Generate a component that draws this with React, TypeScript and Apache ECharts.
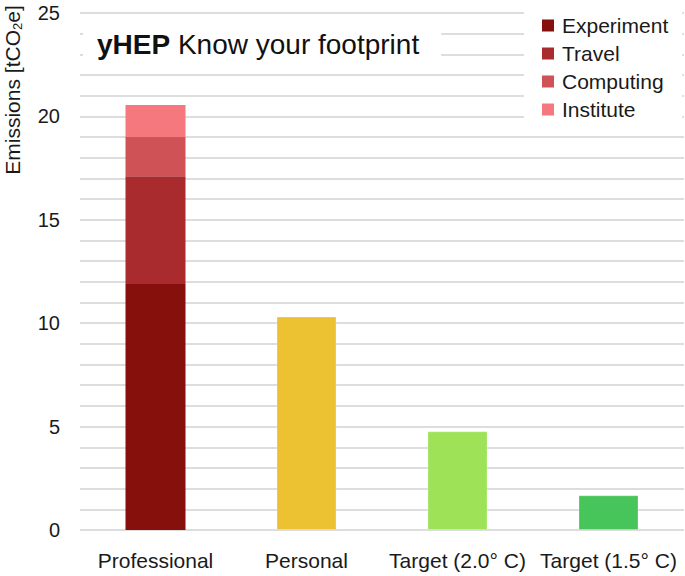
import React, { useEffect, useRef } from "react";
import * as echarts from "echarts";

const categories = ["Professional", "Personal", "Target (2.0° C)", "Target (1.5° C)"];
const sourceNames = ["Experiment", "Travel", "Computing", "Institute"];
const sourceColors = ["#86100C", "#A92B2D", "#CF5257", "#F4787E"];
// share of the professional footprint per source, in tCO2e
const professionalBySource = [11.9, 5.2, 1.9, 1.55];
// personal footprint and the two targets
const otherTotals = [10.32, 4.77, 1.68];
const otherColors = ["#ECC232", "#9DE257", "#48C55A"];
const yTicks = [0, 5, 10, 15, 20, 25];

const FONT = "'Liberation Sans', Arial, Helvetica, sans-serif";

const App = () => {
	const chartRef = useRef(null);

	useEffect(() => {
		if (!chartRef.current) return;
		const chart = echarts.init(chartRef.current, null, { renderer: "svg" });

		const sourceSeries = sourceNames.map((name, i) => ({
			name,
			type: "bar",
			stack: "total",
			barWidth: 60,
			data: categories.map((_, c) => (c === 0 ? professionalBySource[i] : "-")),
			itemStyle: { color: sourceColors[i] },
		}));

		const otherSeries = {
			name: "Total",
			type: "bar",
			stack: "total",
			barWidth: 60,
			data: [
				"-",
				...otherTotals.map((v, i) => ({
					value: v,
					itemStyle: {
						color: otherColors[i],
						borderColor: "rgba(255,255,255,0.25)",
						borderWidth: 1,
					},
				})),
			],
		};

		const option = {
			animation: false,
			textStyle: { fontFamily: FONT },
			grid: { left: 80, right: 1, top: 13, bottom: 46 },
			title: {
				text: "{b|yHEP} Know your footprint",
				left: 83,
				top: 20,
				backgroundColor: "#fff",
				padding: [10, 22, 9, 14],
				textStyle: {
					fontFamily: FONT,
					fontSize: 28,
					fontWeight: "normal",
					color: "#111",
					rich: {
						b: { fontFamily: FONT, fontSize: 28, fontWeight: "bold", color: "#111" },
					},
				},
			},
			legend: {
				data: sourceNames,
				orient: "vertical",
				left: 524,
				top: 0,
				backgroundColor: "#fff",
				padding: [15, 14, 10, 18],
				itemWidth: 12,
				itemHeight: 12,
				itemGap: 7,
				icon: "rect",
				selectedMode: false,
				textStyle: { fontFamily: FONT, fontSize: 21, color: "#1a1a1a", padding: [0, 0, 0, 3] },
			},
			xAxis: {
				type: "category",
				data: categories,
				axisLine: { show: false },
				axisTick: { show: false },
				axisLabel: { interval: 0, fontFamily: FONT, fontSize: 21, color: "#1a1a1a", margin: 20 },
			},
			yAxis: {
				type: "value",
				min: 0,
				max: 25,
				interval: 1,
				axisLine: { show: false },
				axisTick: { show: false },
				axisLabel: {
					fontFamily: FONT,
					fontSize: 20,
					color: "#1a1a1a",
					margin: 20,
					formatter: (v) => (yTicks.includes(v) ? String(v) : ""),
				},
				splitLine: { lineStyle: { color: "#d2d2d2", width: 1.5 } },
			},
			graphic: [
				{
					type: "text",
					x: 12,
					y: 90,
					rotation: Math.PI / 2,
					style: {
						text: "Emissions [tCO{sub|2}e]",
						fontFamily: FONT,
						fontSize: 21,
						lineHeight: 23,
						fill: "#1a1a1a",
						align: "center",
						verticalAlign: "middle",
						textAlign: "center",
						textVerticalAlign: "middle",
						rich: {
							sub: { fontFamily: FONT, fontSize: 13, lineHeight: 13, verticalAlign: "bottom", fill: "#1a1a1a" },
						},
					},
				},
			],
			series: [...sourceSeries, otherSeries],
		};

		chart.setOption(option);

		return () => {
			chart.dispose();
		};
	}, []);

	return (
		<div
			ref={chartRef}
			style={{ position: "absolute", left: 0, top: 0, width: "685px", height: "576px" }}
		/>
	);
};

export default App;
